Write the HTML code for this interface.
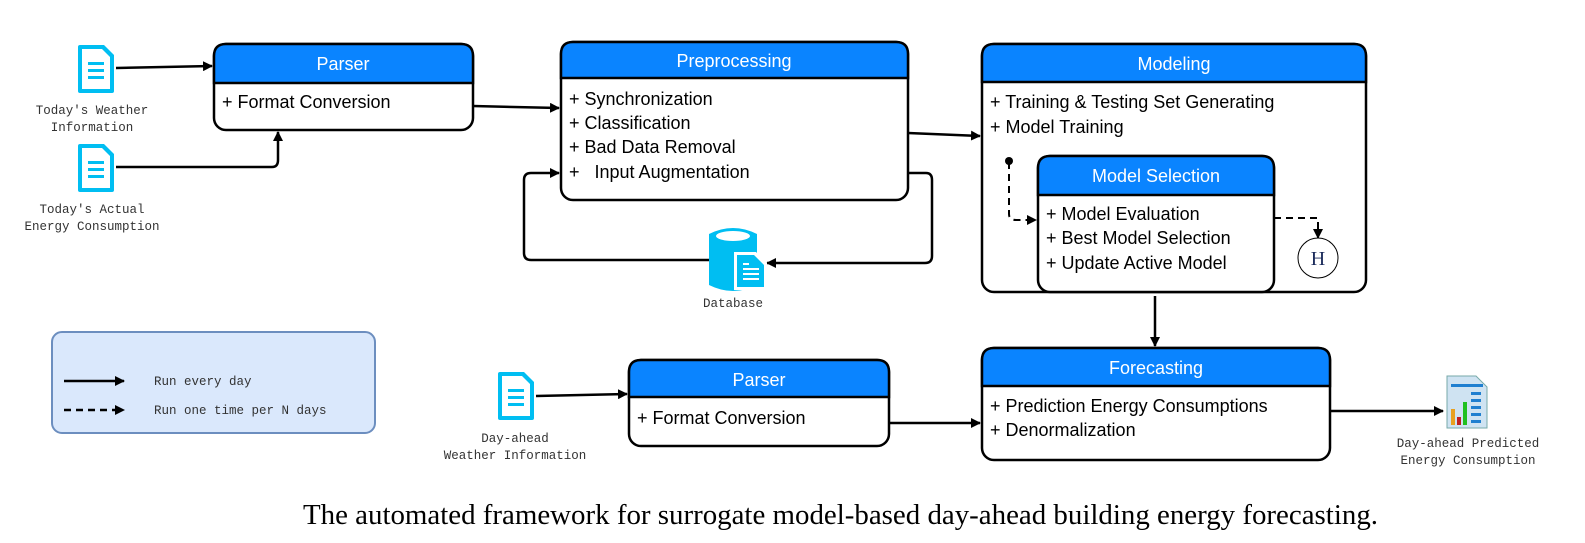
<!DOCTYPE html>
<html><head><meta charset="utf-8"><style>
body{margin:0;background:#fff;width:1585px;height:543px;overflow:hidden}
svg{display:block}
.t{font-family:"Liberation Sans",sans-serif;font-size:18px;fill:#000}
.h{font-family:"Liberation Sans",sans-serif;font-size:18px;fill:#fff}
.m{font-family:"Liberation Mono",monospace;font-size:12.5px;fill:#333}
</style></head><body>
<svg width="1585" height="543" viewBox="0 0 1585 543">
<defs>
<marker id="a" markerWidth="10" markerHeight="10" refX="9" refY="5" orient="auto" markerUnits="userSpaceOnUse" viewBox="0 0 10 10"><path d="M0,0 L10,5 L0,10z" fill="#000"/></marker>
<g id="doc"><path d="M2,0 H26 L36,10 V46 Q36,48 34,48 H2 Q0,48 0,46 V2 Q0,0 2,0z" fill="#00bef2"/><path d="M4,4 H24 L32,12 V44 H4z" fill="#fff"/><rect x="10" y="17" width="16" height="3" fill="#00bef2"/><rect x="10" y="24" width="16" height="3" fill="#00bef2"/><rect x="10" y="31" width="16" height="3" fill="#00bef2"/></g>
</defs>
<g stroke="#000" stroke-width="2.5">
<rect x="214" y="44" width="259" height="86" rx="12" fill="#fff"/>
<path d="M214,83 V56 Q214,44 226,44 H461 Q473,44 473,56 V83z" fill="#0a84ff"/>
<rect x="561" y="42" width="347" height="158" rx="12" fill="#fff"/>
<path d="M561,78 V54 Q561,42 573,42 H896 Q908,42 908,54 V78z" fill="#0a84ff"/>
<rect x="982" y="44" width="384" height="248" rx="12" fill="#fff"/>
<path d="M982,82 V56 Q982,44 994,44 H1354 Q1366,44 1366,56 V82z" fill="#0a84ff"/>
<rect x="1038" y="156" width="236" height="136" rx="12" fill="#fff"/>
<path d="M1038,195 V168 Q1038,156 1050,156 H1262 Q1274,156 1274,168 V195z" fill="#0a84ff"/>
<rect x="629" y="360" width="260" height="86" rx="12" fill="#fff"/>
<path d="M629,397 V372 Q629,360 641,360 H877 Q889,360 889,372 V397z" fill="#0a84ff"/>
<rect x="982" y="348" width="348" height="112" rx="12" fill="#fff"/>
<path d="M982,386 V360 Q982,348 994,348 H1318 Q1330,348 1330,360 V386z" fill="#0a84ff"/>
</g>
<g fill="none" stroke="#000" stroke-width="2.5">
<path d="M116,68 L212,66" marker-end="url(#a)"/>
<path d="M116,167 H272 Q278,167 278,160 V132" marker-end="url(#a)"/>
<path d="M473,106 L559,108" marker-end="url(#a)"/>
<path d="M908,133 L980,136" marker-end="url(#a)"/>
<path d="M908,173 H926 Q932,173 932,180 V256 Q932,263 925,263 H767" marker-end="url(#a)"/>
<path d="M713,260 H531 Q524,260 524,253 V180 Q524,173 531,173 H559" marker-end="url(#a)"/>
<path d="M1155,296 V346" marker-end="url(#a)"/>
<path d="M889,423 L980,423" marker-end="url(#a)"/>
<path d="M1330,411 L1443,411" marker-end="url(#a)"/>
<path d="M536,396 L627,394" marker-end="url(#a)"/>
<path d="M1009,162 V214 Q1009,220 1016,220 H1036" stroke-dasharray="7,5" stroke-width="2" marker-end="url(#a)"/>
<path d="M1274,218 H1318 V238" stroke-dasharray="7,5" stroke-width="2" marker-end="url(#a)"/>
</g>
<circle cx="1009" cy="161" r="4" fill="#000"/>
<circle cx="1318" cy="258" r="20" fill="#fff" stroke="#000" stroke-width="1"/>
<text x="1318" y="265" text-anchor="middle" font-family="Liberation Serif,serif" font-size="20" fill="#1a2a5a">H</text>
<text class="h" x="343" y="70" text-anchor="middle">Parser</text>
<text class="t" x="222" y="108">+ Format Conversion</text>
<text class="h" x="734" y="67" text-anchor="middle">Preprocessing</text>
<text class="t" x="569" y="105">+ Synchronization</text>
<text class="t" x="569" y="129">+ Classification</text>
<text class="t" x="569" y="153">+ Bad Data Removal</text>
<text class="t" x="569" y="178" xml:space="preserve">+   Input Augmentation</text>
<text class="h" x="1174" y="70" text-anchor="middle">Modeling</text>
<text class="t" x="990" y="108">+ Training &amp; Testing Set Generating</text>
<text class="t" x="990" y="133">+ Model Training</text>
<text class="h" x="1156" y="182" text-anchor="middle">Model Selection</text>
<text class="t" x="1046" y="220">+ Model Evaluation</text>
<text class="t" x="1046" y="244">+ Best Model Selection</text>
<text class="t" x="1046" y="269">+ Update Active Model</text>
<text class="h" x="759" y="386" text-anchor="middle">Parser</text>
<text class="t" x="637" y="424">+ Format Conversion</text>
<text class="h" x="1156" y="374" text-anchor="middle">Forecasting</text>
<text class="t" x="990" y="412">+ Prediction Energy Consumptions</text>
<text class="t" x="990" y="436">+ Denormalization</text>
<use href="#doc" x="78" y="45"/>
<use href="#doc" x="78" y="144"/>
<use href="#doc" x="498" y="372"/>
<text class="m" x="92" y="114" text-anchor="middle">Today's Weather</text>
<text class="m" x="92" y="131" text-anchor="middle">Information</text>
<text class="m" x="92" y="213" text-anchor="middle">Today's Actual</text>
<text class="m" x="92" y="230" text-anchor="middle">Energy Consumption</text>
<text class="m" x="515" y="442" text-anchor="middle">Day-ahead</text>
<text class="m" x="515" y="459" text-anchor="middle">Weather Information</text>
<path d="M709,234 Q733,222 757,234 V285 Q733,297 709,285z" fill="#00bef2"/>
<ellipse cx="733" cy="236" rx="17" ry="5" fill="#fff"/>
<path d="M734,252 H756 L767,263 V290 H734z" fill="#fff"/>
<path d="M737,255 H754 L764,265 V287 H737z" fill="#00bef2"/>
<g fill="#fff"><rect x="743" y="263" width="6" height="2"/><rect x="743" y="268" width="16" height="2"/><rect x="743" y="273" width="16" height="2"/><rect x="743" y="278" width="16" height="2"/></g>
<text class="m" x="733" y="307" text-anchor="middle">Database</text>
<path d="M1447,376 H1476 L1487,387 V428 H1447z" fill="#cfe3f2" stroke="#7aa" stroke-width="1"/>
<rect x="1451" y="384" width="32" height="3" fill="#1f7fd0"/>
<rect x="1451" y="409" width="4" height="16" fill="#e8a020"/>
<rect x="1457" y="417" width="4" height="8" fill="#c02020"/>
<rect x="1463" y="402" width="4" height="23" fill="#20c020"/>
<g fill="#1f7fd0"><rect x="1471" y="392" width="10" height="3"/><rect x="1471" y="399" width="10" height="3"/><rect x="1471" y="406" width="10" height="3"/><rect x="1471" y="413" width="10" height="3"/><rect x="1471" y="420" width="10" height="3"/></g>
<text class="m" x="1468" y="447" text-anchor="middle">Day-ahead Predicted</text>
<text class="m" x="1468" y="464" text-anchor="middle">Energy Consumption</text>
<rect x="52" y="332" width="323" height="101" rx="10" fill="#dae8fc" stroke="#6c8ebf" stroke-width="2"/>
<path d="M64,381 H124" stroke="#000" stroke-width="2.5" marker-end="url(#a)"/>
<path d="M64,410 H124" stroke="#000" stroke-width="2.5" stroke-dasharray="7,5" marker-end="url(#a)"/>
<text class="m" x="154" y="385">Run every day</text>
<text class="m" x="154" y="414">Run one time per N days</text>
<text x="303" y="524" textLength="1075" lengthAdjust="spacingAndGlyphs" font-family="Liberation Serif,serif" font-size="28" fill="#000">The automated framework for surrogate model-based day-ahead building energy forecasting.</text>
</svg>
</body></html>
